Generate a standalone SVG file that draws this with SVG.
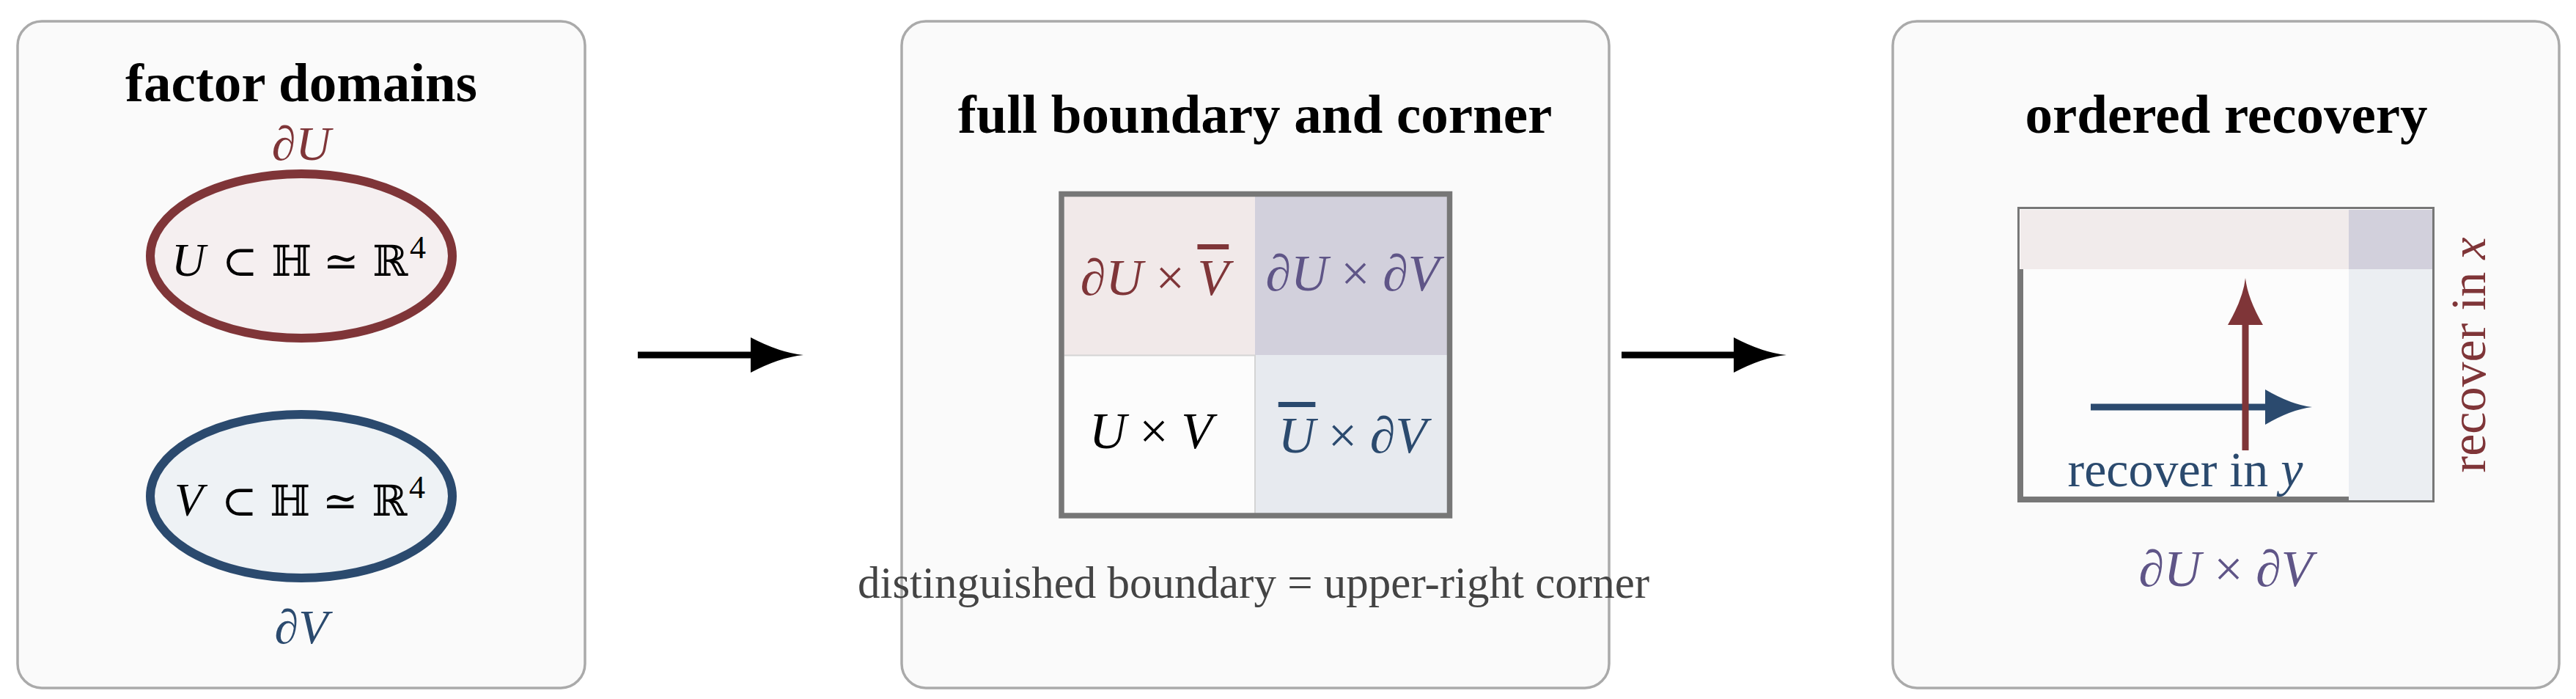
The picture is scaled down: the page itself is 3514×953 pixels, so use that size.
<svg xmlns="http://www.w3.org/2000/svg" width="3514" height="953" viewBox="0 0 3514 953">
<defs>
<style>
.panel{fill:#fafafa;stroke:#aaaaaa;stroke-width:3.5}
.title{font-family:"Liberation Serif","DejaVu Serif",serif;font-weight:bold;font-size:75px;text-anchor:middle;fill:#000}
.math{font-family:"Liberation Serif","DejaVu Serif","DejaVu Sans",serif;font-size:70px;text-anchor:middle}
.formula{font-family:"Liberation Serif","DejaVu Serif","DejaVu Sans",serif;font-size:58px;fill:#000}
.lbl{font-family:"Liberation Serif","DejaVu Serif",serif;text-anchor:middle}
.it{font-style:italic}
.red{fill:#7f3538}
.blue{fill:#2b4a6e}
.purple{fill:#5f5587}
.conn{stroke:#000;stroke-width:9;fill:none}
</style>
<marker id="ahBlack" viewBox="0 -24 72 48" refX="0" refY="0" markerWidth="72" markerHeight="48" markerUnits="userSpaceOnUse" orient="auto">
<path d="M0,-24 Q40,-3 72,0 Q40,3 0,24 Z" fill="#000"/>
</marker>
<marker id="ahBlue" viewBox="0 -24 64 48" refX="0" refY="0" markerWidth="64" markerHeight="48" markerUnits="userSpaceOnUse" orient="auto">
<path d="M0,-24 Q36,-3 64,0 Q36,3 0,24 Z" fill="#2b4a6e"/>
</marker>
<marker id="ahRed" viewBox="0 -24 64 48" refX="0" refY="0" markerWidth="64" markerHeight="48" markerUnits="userSpaceOnUse" orient="auto">
<path d="M0,-24 Q36,-3 64,0 Q36,3 0,24 Z" fill="#7f3538"/>
</marker>
</defs>
<rect x="0" y="0" width="3514" height="953" fill="#ffffff"/>

<g id="panel-factor-domains">
<rect class="panel" x="24" y="29" width="774" height="909" rx="33"/>
<text class="title" x="411" y="138">factor domains</text>
<text class="lbl red" x="411" y="218" font-size="66"><tspan class="it">∂U</tspan></text>
<g id="node-U">
<ellipse cx="411" cy="349" rx="206" ry="112" fill="#f5eff0" stroke="#7f3538" stroke-width="12"/>
<text class="formula" y="376"><tspan class="it" x="234" font-size="64">U</tspan><tspan x="303">⊂</tspan><tspan x="370">ℍ</tspan><tspan x="441">≃</tspan><tspan x="508">ℝ</tspan><tspan x="559" dy="-24" font-size="44">4</tspan></text>
</g>
<g id="node-V">
<ellipse cx="411" cy="676.5" rx="206" ry="111.5" fill="#eef2f5" stroke="#2b4a6e" stroke-width="12"/>
<text class="formula" y="703"><tspan class="it" x="238" font-size="64">V</tspan><tspan x="302">⊂</tspan><tspan x="368">ℍ</tspan><tspan x="440">≃</tspan><tspan x="507">ℝ</tspan><tspan x="558" dy="-24" font-size="44">4</tspan></text>
</g>
<text class="lbl blue" x="411" y="877" font-size="66"><tspan class="it">∂V</tspan></text>
</g>

<g id="panel-full-boundary">
<rect class="panel" x="1230" y="29" width="965" height="909" rx="33"/>
<text class="title" x="1712" y="181">full boundary and corner</text>
<g id="grid">
<rect x="1452" y="268" width="260" height="216" fill="#f1e9e9"/>
<rect x="1712" y="268" width="262" height="216" fill="#d2d0dc"/>
<rect x="1452" y="484" width="260" height="216" fill="#fcfcfc"/>
<rect x="1712" y="484" width="262" height="216" fill="#e7eaef"/>
<line x1="1452" y1="484.5" x2="1712" y2="484.5" stroke="#d4d4d4" stroke-width="2"/>
<line x1="1712" y1="484" x2="1712" y2="700" stroke="#d4d4d4" stroke-width="2"/>
<rect x="1448" y="264.5" width="529.5" height="438.5" fill="none" stroke="#777777" stroke-width="7.5"/>
<text class="math red" x="1575" y="402"><tspan class="it">∂U</tspan> × <tspan class="it" text-decoration="overline">V</tspan></text>
<text class="math purple" x="1845" y="396"><tspan class="it">∂U</tspan> × <tspan class="it">∂V</tspan></text>
<text class="math" x="1570" y="611" fill="#000"><tspan class="it">U</tspan> × <tspan class="it">V</tspan></text>
<text class="math blue" x="1845" y="617"><tspan class="it" text-decoration="overline">U</tspan> × <tspan class="it">∂V</tspan></text>
</g>
<text class="lbl" x="1710" y="815" font-size="61" fill="#444444">distinguished boundary = upper-right corner</text>
</g>

<g id="panel-ordered-recovery">
<rect class="panel" x="2582" y="29" width="909" height="909" rx="33"/>
<text class="title" x="3037" y="181">ordered recovery</text>
<rect x="2753.5" y="283.5" width="566" height="400" fill="#fcfcfc" stroke="#777777" stroke-width="3"/>
<path d="M2756,367 V681 H3204" fill="none" stroke="#777777" stroke-width="8"/>
<rect x="2756" y="286" width="448" height="81" fill="#f1ebeb"/>
<rect x="3204" y="286" width="114" height="81" fill="#d2d0dc"/>
<rect x="3204" y="367" width="114" height="315" fill="#ebeef2"/>
<line x1="2852" y1="555" x2="3090" y2="555" stroke="#2b4a6e" stroke-width="9" marker-end="url(#ahBlue)"/>
<line x1="3063" y1="614" x2="3063" y2="443" stroke="#7f3538" stroke-width="9" marker-end="url(#ahRed)"/>
<text class="lbl blue" x="2981" y="663" font-size="68">recover in <tspan class="it">y</tspan></text>
<text class="lbl red" font-size="68" transform="translate(3390,484) rotate(-90)">recover in <tspan class="it">x</tspan></text>
<text class="math purple" x="3036" y="799"><tspan class="it">∂U</tspan> × <tspan class="it">∂V</tspan></text>
</g>

<g id="connectors">
<line class="conn" x1="870" y1="484" x2="1024" y2="484" marker-end="url(#ahBlack)"/>
<line class="conn" x1="2212" y1="484" x2="2365" y2="484" marker-end="url(#ahBlack)"/>
</g>
</svg>
